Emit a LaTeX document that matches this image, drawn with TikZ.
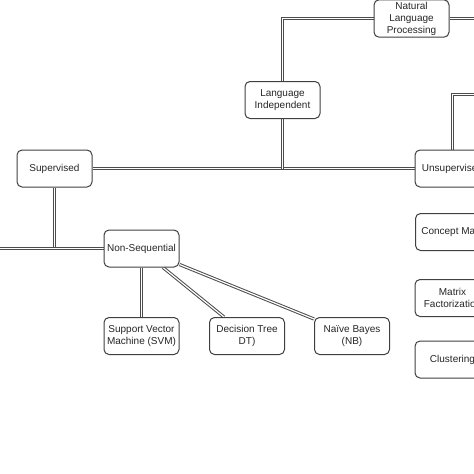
\documentclass[tikz,border=0pt]{standalone}
\usepackage{fontspec}
\setmainfont{Liberation Sans}
\usetikzlibrary{positioning,calc,backgrounds}

\tikzset{
  box/.style={draw=black!75, fill=white, rounded corners=5pt, line width=1pt,
    minimum width=75pt, minimum height=37pt, inner sep=2pt, align=center,
    text=black!85, font=\fontsize{10}{12}\selectfont},
  link/.style={draw=black!70, line width=1pt, double=white, double distance=1.2pt}
}

\begin{document}
\begin{tikzpicture}[x=1pt,y=-1pt]
        \useasboundingbox (0,0) rectangle (474,474);
        \clip (0,0) rectangle (474,474);

        \node[box] (sup) at (54.5,168.5) {Supervised};
        \node[box] (lind) at (282.5,100) {Language\\Independent};
        \node[box] (nlp) at (411.5,18.5) {Natural\\Language\\Processing};
        \node[box] (unsup) at (452.5,168.5) {Unsupervised};
        \node[box] (nseq) at (141.5,248.5) {Non-Sequential};

        \node[box] (svm) at (141.5,336) {Support Vector\\Machine (SVM)};
        \node[box, right of=svm, node distance=105.5pt] (dt) {Decision Tree\\DT)};
        \node[box, right of=dt, node distance=105pt] (nb) {Naïve Bayes\\(NB)};

        \node[box, minimum width=90pt, anchor=west] (cmap) at (415,232) {Concept Mapping};
        \node[box] (mfac) at (452.5,298) {Matrix\\Factorization};
        \node[box] (clus) at (452.5,359.5) {Clustering};

        \coordinate (nlpout) at (485,18.5);
        \coordinate (unout) at (485,94.5);
        \coordinate (leftin) at (-5,248.5);

        \begin{scope}[on background layer]
        \draw[link] (sup.east) -- (unsup.west);
        \draw[link] (lind.south) -- (lind.south |- sup.east);
        \draw[link] (lind.north) |- (nlp.west);
        \draw[link] (nlp.east) -- (nlpout);
        \draw[link] (unsup.north) |- (unout);

        \draw[link] (sup.south) -- (sup.south |- nseq.west);
        \draw[link] (leftin) -- (nseq.west);

        \draw[link] (nseq.south) -- (svm.north);
        \draw[link] ($ (nseq.south)+(21.5,0) $) -- ($ (dt.north)+(-23,0) $);
        \draw[link] ($ (nseq.south east)+(0,-3) $) -- ($ (nb.north west)+(0,2) $);
        \end{scope}
    \end{tikzpicture}
\end{document}
